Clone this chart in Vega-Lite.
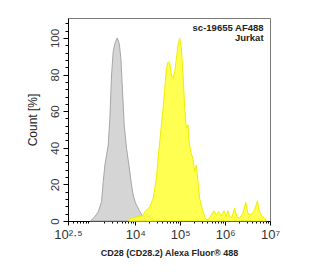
{
  "$schema": "https://vega.github.io/schema/vega-lite/v6.json",
  "width": 202,
  "height": 203,
  "autosize": "none",
  "padding": {"left": 68, "top": 18, "right": 50, "bottom": 54},
  "background": "white",
  "config": {"font": "Liberation Sans", "view": {"stroke": "#7a7a7a", "strokeWidth": 1}},
  "datasets": {
    "gray": [
      {"fluorescence": 1000, "count": 0},
      {"fluorescence": 1259, "count": 2.4},
      {"fluorescence": 1493, "count": 5.1},
      {"fluorescence": 1770, "count": 10.6},
      {"fluorescence": 1928, "count": 21.5},
      {"fluorescence": 2099, "count": 30.6},
      {"fluorescence": 2286, "count": 36},
      {"fluorescence": 2489, "count": 41.5},
      {"fluorescence": 2710, "count": 56},
      {"fluorescence": 2951, "count": 79.8},
      {"fluorescence": 3214, "count": 92.5},
      {"fluorescence": 3499, "count": 97},
      {"fluorescence": 3945, "count": 100},
      {"fluorescence": 4375, "count": 97},
      {"fluorescence": 4764, "count": 88.9},
      {"fluorescence": 5188, "count": 70.7},
      {"fluorescence": 5649, "count": 52.5},
      {"fluorescence": 6368, "count": 39.7},
      {"fluorescence": 7178, "count": 30.6},
      {"fluorescence": 8222, "count": 19.7},
      {"fluorescence": 8954, "count": 14.2},
      {"fluorescence": 10093, "count": 9.7},
      {"fluorescence": 11169, "count": 7.8},
      {"fluorescence": 12589, "count": 5.1},
      {"fluorescence": 14791, "count": 2.4},
      {"fluorescence": 16255, "count": 2.4},
      {"fluorescence": 17701, "count": 4.2},
      {"fluorescence": 19275, "count": 3.0},
      {"fluorescence": 20989, "count": 2.4},
      {"fluorescence": 25119, "count": 1.0},
      {"fluorescence": 29512, "count": 0}
    ],
    "yellow": [
      {"fluorescence": 7079, "count": 0},
      {"fluorescence": 7943, "count": 1.5},
      {"fluorescence": 11482, "count": 2.4},
      {"fluorescence": 14791, "count": 3.0},
      {"fluorescence": 16255, "count": 5},
      {"fluorescence": 20989, "count": 7.8},
      {"fluorescence": 24889, "count": 12.4},
      {"fluorescence": 29512, "count": 23.3},
      {"fluorescence": 32137, "count": 34.2},
      {"fluorescence": 38107, "count": 52.5},
      {"fluorescence": 41591, "count": 61.6},
      {"fluorescence": 45290, "count": 72.5},
      {"fluorescence": 49317, "count": 83.4},
      {"fluorescence": 53703, "count": 87},
      {"fluorescence": 58479, "count": 86.2},
      {"fluorescence": 63680, "count": 79.8},
      {"fluorescence": 69343, "count": 78},
      {"fluorescence": 75509, "count": 81.6},
      {"fluorescence": 82224, "count": 88.9},
      {"fluorescence": 89536, "count": 96.2},
      {"fluorescence": 97499, "count": 99.8},
      {"fluorescence": 106170, "count": 94.4},
      {"fluorescence": 115611, "count": 79.8},
      {"fluorescence": 125893, "count": 61.6},
      {"fluorescence": 137088, "count": 50.6},
      {"fluorescence": 149279, "count": 52.5},
      {"fluorescence": 154525, "count": 45},
      {"fluorescence": 171002, "count": 37.9},
      {"fluorescence": 190985, "count": 34.2},
      {"fluorescence": 209894, "count": 27},
      {"fluorescence": 228560, "count": 30.6},
      {"fluorescence": 248886, "count": 21.5},
      {"fluorescence": 271019, "count": 12.4},
      {"fluorescence": 321366, "count": 5.1},
      {"fluorescence": 363078, "count": 1.5},
      {"fluorescence": 415911, "count": 0.5},
      {"fluorescence": 493174, "count": 3.3},
      {"fluorescence": 564937, "count": 5.6},
      {"fluorescence": 630957, "count": 3.3},
      {"fluorescence": 717794, "count": 5.1},
      {"fluorescence": 822243, "count": 2.7},
      {"fluorescence": 941889, "count": 5.6},
      {"fluorescence": 1061700, "count": 2.4},
      {"fluorescence": 1148154, "count": 5.6},
      {"fluorescence": 1258925, "count": 2.4},
      {"fluorescence": 1412538, "count": 2.0},
      {"fluorescence": 1621810, "count": 6.9},
      {"fluorescence": 1832314, "count": 2.4},
      {"fluorescence": 2098940, "count": 1.5},
      {"fluorescence": 2488857, "count": 4.2},
      {"fluorescence": 2884032, "count": 10.2},
      {"fluorescence": 3213661, "count": 4.2},
      {"fluorescence": 3810700, "count": 3.3},
      {"fluorescence": 4528976, "count": 6.0},
      {"fluorescence": 5248075, "count": 11},
      {"fluorescence": 5649370, "count": 6.0},
      {"fluorescence": 6367955, "count": 3.3},
      {"fluorescence": 7550922, "count": 1.5},
      {"fluorescence": 8317638, "count": 0}
    ],
    "note": [{"label": "sc-19655 AF488\nJurkat"}]
  },
  "layer": [
    {
      "data": {"name": "gray"},
      "mark": {"type": "area", "fill": "#d5d5d5", "stroke": "#a6a6a6", "strokeWidth": 1},
      "encoding": {
        "x": {
          "field": "fluorescence", "type": "quantitative",
          "scale": {"type": "log", "domain": [316.2278, 10000000], "nice": false},
          "axis": {
            "orient": "bottom",
            "values": [316.2278, 10000, 100000, 1000000, 10000000],
            "labelExpr": "datum.value < 1000 ? '10²·⁵' : datum.value < 50000 ? '10⁴' : datum.value < 500000 ? '10⁵' : datum.value < 5000000 ? '10⁶' : '10⁷'",
            "labelFontSize": 13, "labelColor": "#333", "labelPadding": 3, "labelFlush": false,
            "tickSize": 4, "tickColor": "black", "domainColor": "black", "grid": false,
            "title": "CD28 (CD28.2) Alexa Fluor® 488", "titleFontSize": 9, "titleFontWeight": "bold",
            "titleColor": "#222", "titlePadding": 7
          }
        },
        "y": {
          "field": "count", "type": "quantitative",
          "scale": {"domain": [0, 110.9], "nice": false},
          "axis": {
            "orient": "left",
            "values": [0, 20, 40, 60, 80, 100],
            "labelAngle": 270, "labelAlign": "center", "labelBaseline": "bottom",
            "labelFontSize": 11.5, "labelColor": "#333", "labelPadding": 3,
            "tickSize": 5, "tickColor": "black", "domainColor": "black", "grid": false,
            "title": "Count [%]", "titleFontSize": 12, "titleFontWeight": "normal",
            "titleColor": "#222", "titlePadding": 10
          }
        }
      }
    },
    {
      "data": {"name": "yellow"},
      "mark": {"type": "area", "fill": "#ffff33", "fillOpacity": 0.85, "stroke": "#eeee00", "strokeWidth": 1},
      "encoding": {
        "x": {
          "field": "fluorescence", "type": "quantitative",
          "axis": {
            "orient": "bottom",
            "values": [400, 500, 600, 700, 800, 900, 2000, 3000, 4000, 5000, 6000, 7000, 8000, 9000, 20000, 30000, 40000, 50000, 60000, 70000, 80000, 90000, 200000, 300000, 400000, 500000, 600000, 700000, 800000, 900000, 2000000, 3000000, 4000000, 5000000, 6000000, 7000000, 8000000, 9000000],
            "labels": false, "domain": false, "grid": false, "title": null,
            "tickSize": 2, "tickColor": "black"
          }
        },
        "y": {
          "field": "count", "type": "quantitative",
          "axis": {
            "orient": "left",
            "values": [4, 8, 12, 16, 24, 28, 32, 36, 44, 48, 52, 56, 64, 68, 72, 76, 84, 88, 92, 96, 104, 108],
            "labels": false, "domain": false, "grid": false, "title": null,
            "tickSize": 3, "tickColor": "black"
          }
        }
      }
    },
    {
      "data": {"name": "note"},
      "mark": {"type": "text", "align": "right", "baseline": "alphabetic", "lineBreak": "\n", "lineHeight": 10, "fontSize": 9.5, "fontWeight": "bold", "color": "#222"},
      "encoding": {
        "x": {"datum": 7180000, "type": "quantitative", "axis": null},
        "y": {"datum": 103.8, "type": "quantitative", "axis": null},
        "text": {"field": "label"}
      }
    }
  ],
  "resolve": {"axis": {"x": "independent", "y": "independent"}}
}
